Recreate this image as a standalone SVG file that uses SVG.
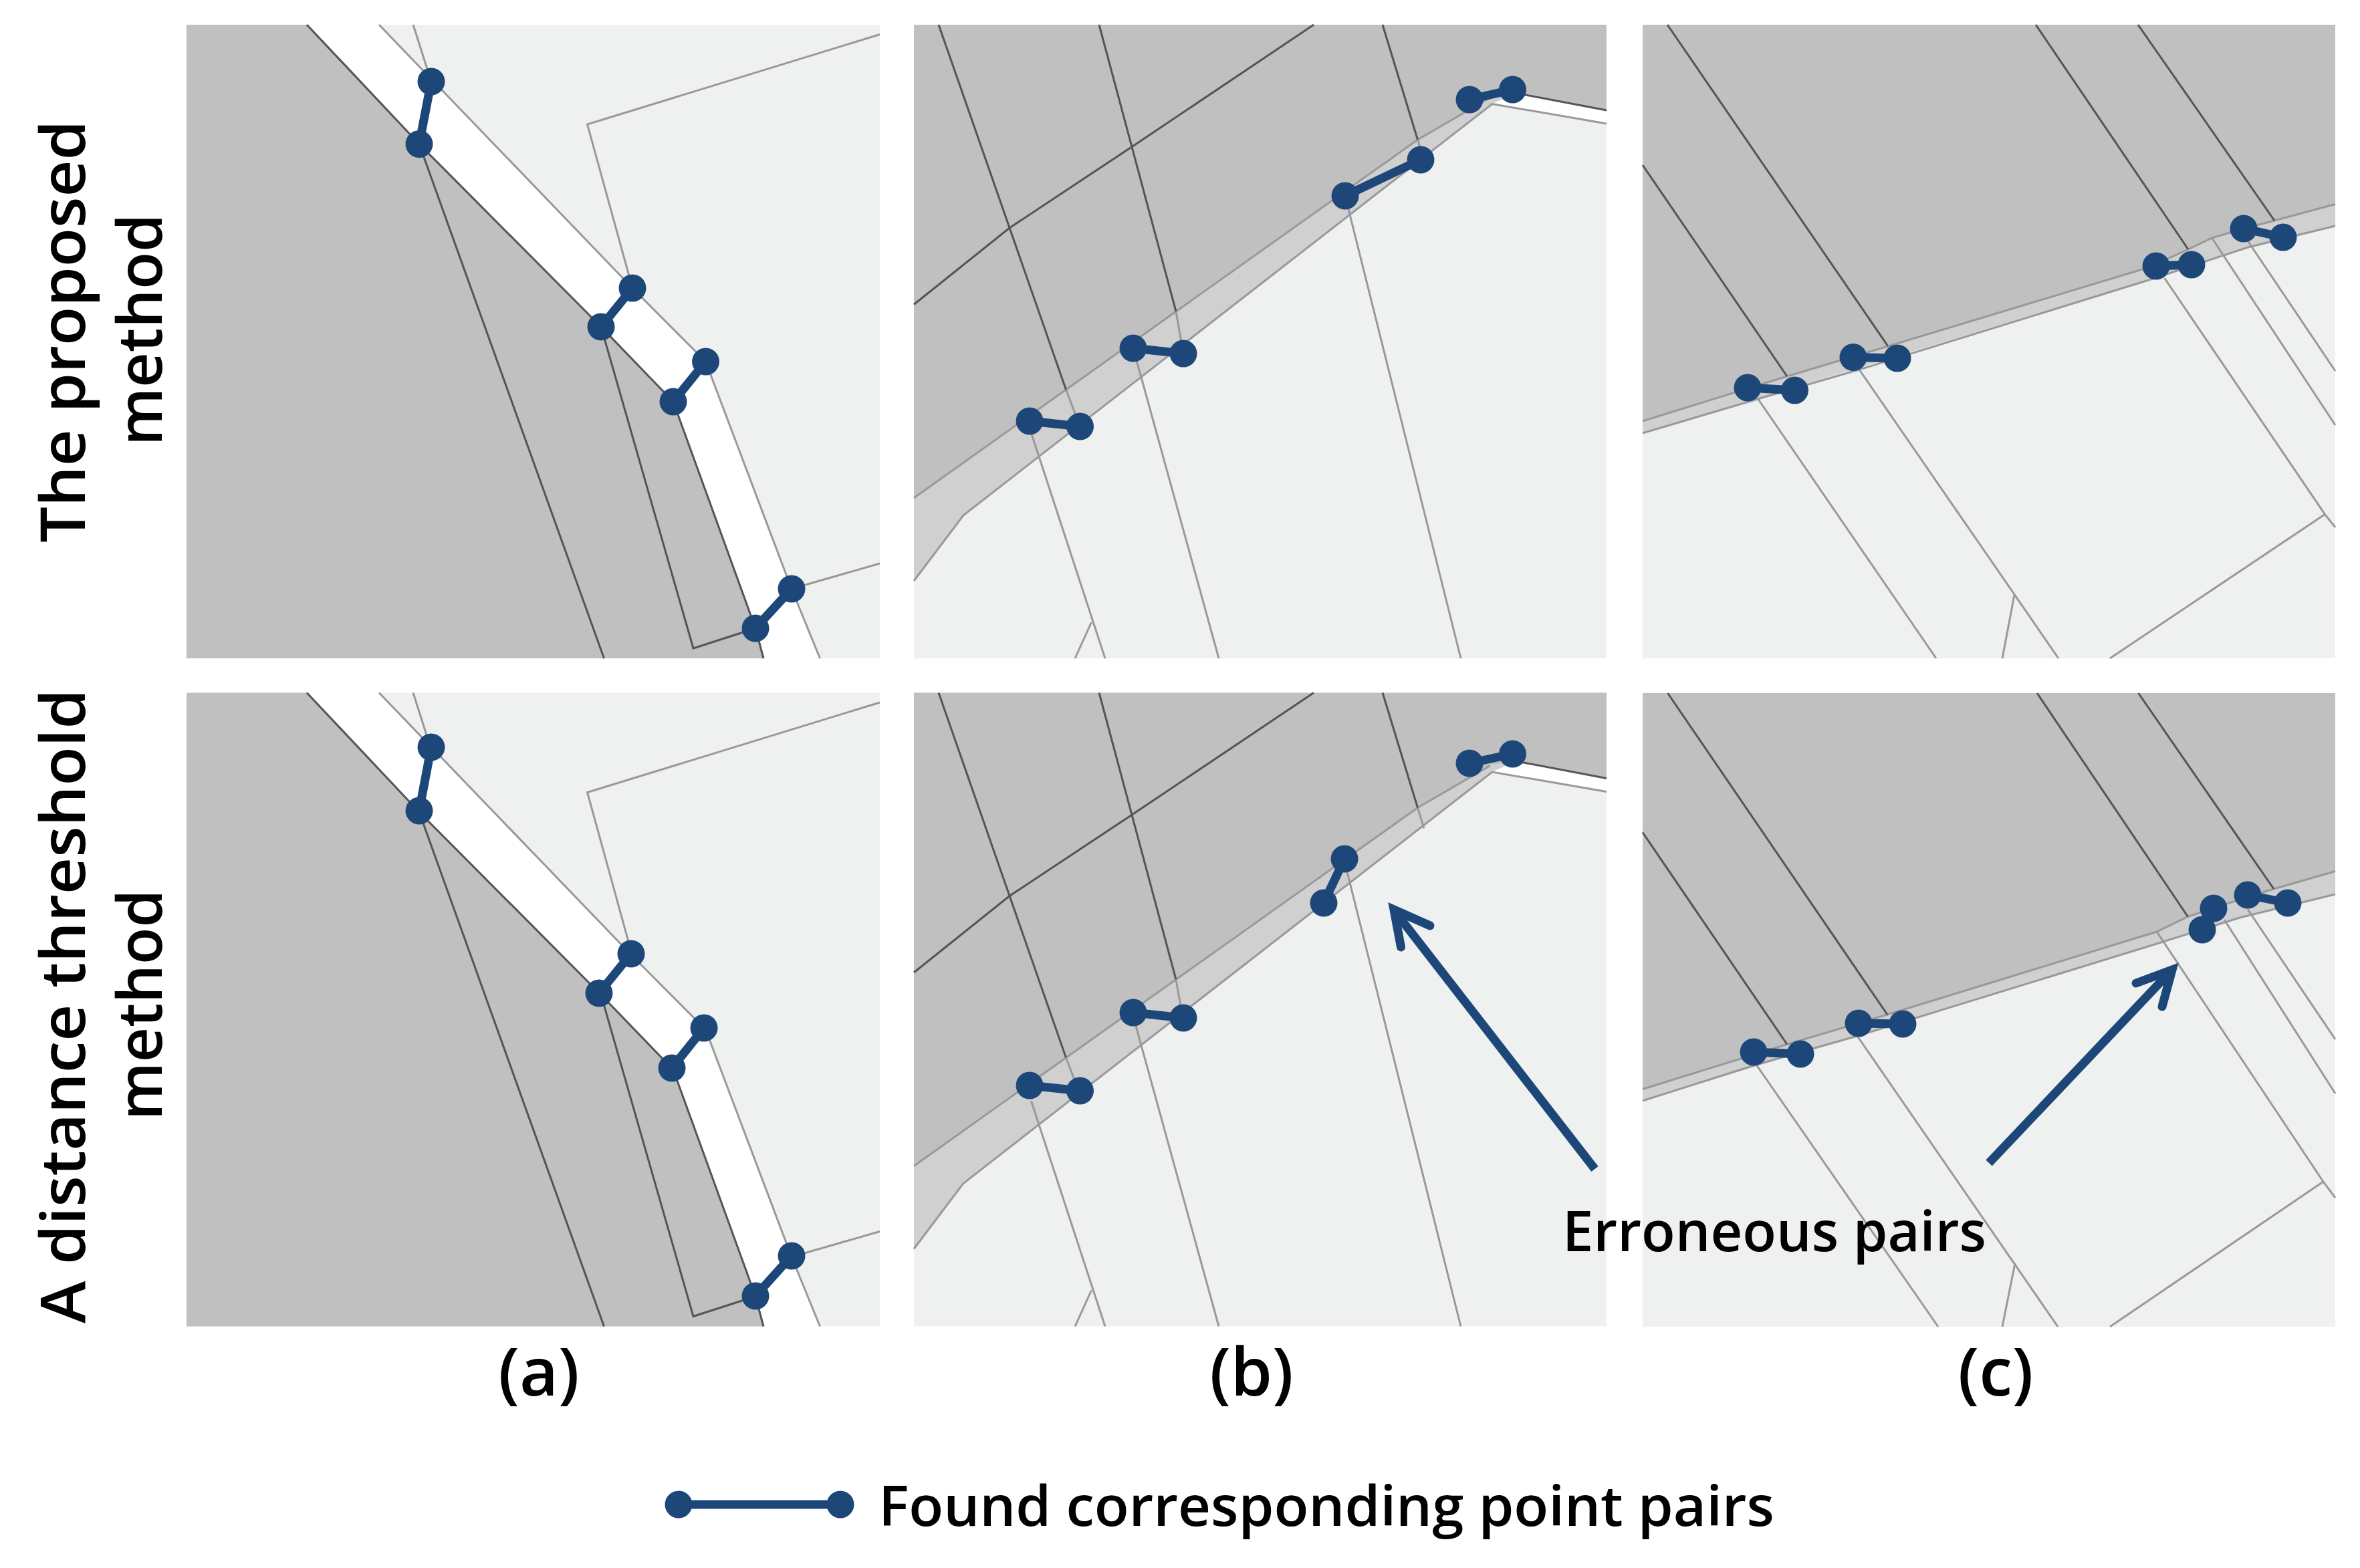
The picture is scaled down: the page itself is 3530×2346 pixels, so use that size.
<svg xmlns="http://www.w3.org/2000/svg" width="3530" height="2346" viewBox="0 0 3530 2346">
<style>
.bg{fill:#eff1f0}.dark{fill:#c0c0c0}.band{fill:#d0d0d0}.white{fill:#fff}
.ld{fill:none;stroke:#555;stroke-width:3}.ll{fill:none;stroke:#999;stroke-width:3}
.pair line{stroke:#1d4779;stroke-width:13}.pair circle{fill:#1d4779;r:20.5px}
.arrow{fill:none;stroke:#1d4779;stroke-width:13}.head{stroke-linecap:round}
text{font-family:"Open Sans","Noto Sans",sans-serif;font-weight:600;fill:#000}
.lab{font-size:84px}.side{font-size:92px}.cap{font-size:100px;text-anchor:middle}
</style>
<defs>
<g id="sceneA">
<rect class="bg" x="279" y="37" width="1037" height="948"/>
<polygon class="white" points="459,37 567,37 946,431 1055.5,541 1184,881 1226.5,985 1142,985 1130,940 1007,601 899,489 627,215.5"/>
<polygon class="dark" points="279,37 459,37 627,215.5 899,489 1007,601 1130,940 1142,985 279,985"/>
<polyline class="ld" points="459,37 627,215.5 899,489 1007,601 1130,940 1142,985"/>
<line class="ld" x1="627" y1="215.5" x2="903.5" y2="985"/>
<polyline class="ld" points="899,489 1037,970 1130,940"/>
<polyline class="ll" points="567,37 946,431 1055.5,541 1184,881 1226.5,985"/>
<line class="ll" x1="618" y1="37" x2="645" y2="122"/>
<polyline class="ll" points="1316,51.5 878.5,186 946,431"/>
<line class="ll" x1="1184" y1="881" x2="1316" y2="843"/>
</g>
<g id="sceneB">
<rect class="bg" x="1367" y="37" width="1036" height="948"/>
<polygon class="white" points="2266,139 2403,165 2403,185 2232,155.5"/>
<polygon class="band" points="1367,745 1594.5,583 1759,466 2120.5,209 2229,146 2266,139 2232,155.5 1441,771 1367,869"/>
<polygon class="dark" points="1367,37 2403,37 2403,165 2266,139 2229,146 2120.5,209 1759,466 1594.5,583 1367,745"/>
<polyline class="ll" points="1367,745 1594.5,583 1759,466 2120.5,209 2229,146"/>
<polyline class="ld" points="2266,139 2403,165"/>
<polyline class="ll" points="1367,869 1441,771 2232,155.5 2403,185"/>
<line class="ld" x1="1404" y1="37" x2="1594.5" y2="583"/>
<line class="ll" x1="1594.5" y1="583" x2="1615.5" y2="638"/>
<line class="ll" x1="1542.5" y1="648" x2="1653" y2="985"/>
<line class="ld" x1="1644" y1="37" x2="1759" y2="466"/>
<line class="ll" x1="1759" y1="466" x2="1770" y2="529"/>
<line class="ll" x1="1695" y1="521" x2="1823" y2="985"/>
<line class="ld" x1="2068" y1="37" x2="2120.5" y2="209"/>
<line class="ll" x1="2120.5" y1="209" x2="2130" y2="240"/>
<line class="ll" x1="2012" y1="293" x2="2185" y2="985"/>
<polyline class="ld" points="1367,455.5 1510,341 1691,221 1965,37"/>
<line class="ll" x1="1632.5" y1="931" x2="1608" y2="985"/>
</g>
</defs>

<g id="panel-a-top"><use href="#sceneA"/></g>
<g id="panel-a-bottom"><use href="#sceneA" y="999.5"/></g>
<g id="panel-b-top"><use href="#sceneB"/></g>
<g id="panel-b-bottom"><use href="#sceneB" y="999.5"/></g>

<g id="panel-c-top">
<rect class="bg" x="2457" y="37" width="1036" height="948"/>
<polygon class="band" points="2457,630 3214,400 3308.5,356 3493,305.5 3493,338 3362.5,370 3214,419 2457,648"/>
<polygon class="dark" points="2457,37 3493,37 3493,305.5 3308.5,356 3214,400 2457,630"/>
<polyline class="ll" points="2457,630 2673,563 2824,518 3214,400 3273,373 3308.5,356 3356,342 3402,330 3493,305.5"/>
<polyline class="ll" points="2457,648 2632.5,596 2781,553 3214,419 3362.5,370 3493,338"/>
<line class="ld" x1="2457" y1="247" x2="2673" y2="563"/>
<line class="ld" x1="2494" y1="37" x2="2824" y2="518"/>
<line class="ld" x1="3045" y1="37" x2="3273" y2="373"/>
<line class="ld" x1="3198" y1="37" x2="3402" y2="330"/>
<line class="ll" x1="3308.5" y1="356" x2="3493" y2="636"/>
<line class="ll" x1="3362.5" y1="361" x2="3493" y2="555"/>
<polyline class="ll" points="3237.5,416 3477.5,769.5 3493,789"/>
<line class="ll" x1="2629" y1="596" x2="2896" y2="985"/>
<line class="ll" x1="2781" y1="553" x2="3079" y2="985"/>
<line class="ll" x1="3013" y1="890" x2="2995" y2="985"/>
<line class="ll" x1="3477.5" y1="769.5" x2="3156" y2="985"/>
</g>

<g id="panel-c-bottom">
<rect class="bg" x="2457" y="1037" width="1036" height="948"/>
<polygon class="band" points="2457,1629.5 3226,1394 3272.5,1371.5 3362,1342 3493,1303.5 3493,1338 3350,1373 3226,1412 2457,1647"/>
<polygon class="dark" points="2457,1037 3493,1037 3493,1303.5 3362,1342 3272.5,1371.5 3226,1394 2457,1629.5"/>
<polyline class="ll" points="2457,1629.5 2673,1562.5 2823,1518 3226,1394 3272.5,1371.5 3362,1342 3401,1330 3493,1303.5"/>
<polyline class="ll" points="2457,1647 2627,1593 2778,1550 3226,1412 3350,1373 3493,1338"/>
<line class="ld" x1="2457" y1="1245.5" x2="2673" y2="1562.5"/>
<line class="ld" x1="2494.5" y1="1037" x2="2823" y2="1518"/>
<line class="ld" x1="3047" y1="1037" x2="3272.5" y2="1371.5"/>
<line class="ld" x1="3198.5" y1="1037" x2="3401" y2="1330"/>
<polyline class="ll" points="3226,1394 3475,1768 3493,1792"/>
<line class="ll" x1="3327" y1="1376" x2="3493" y2="1636"/>
<line class="ll" x1="3362" y1="1360.5" x2="3493" y2="1555"/>
<line class="ll" x1="3475" y1="1768" x2="3156" y2="1985"/>
<line class="ll" x1="2627" y1="1593" x2="2899" y2="1985"/>
<line class="ll" x1="2778" y1="1550" x2="3078" y2="1985"/>
<line class="ll" x1="3014" y1="1890" x2="2995" y2="1985"/>
</g>

<g id="connectors">
<g class="pair"><line x1="645" y1="122" x2="627" y2="215.5"/><circle cx="645" cy="122"/><circle cx="627" cy="215.5"/></g>
<g class="pair"><line x1="946" y1="431" x2="899" y2="489"/><circle cx="946" cy="431"/><circle cx="899" cy="489"/></g>
<g class="pair"><line x1="1055.5" y1="541" x2="1007" y2="601"/><circle cx="1055.5" cy="541"/><circle cx="1007" cy="601"/></g>
<g class="pair"><line x1="1184" y1="881" x2="1130" y2="940"/><circle cx="1184" cy="881"/><circle cx="1130" cy="940"/></g>

<g class="pair"><line x1="645" y1="1118" x2="627" y2="1213"/><circle cx="645" cy="1118"/><circle cx="627" cy="1213"/></g>
<g class="pair"><line x1="944" y1="1427" x2="896" y2="1486"/><circle cx="944" cy="1427"/><circle cx="896" cy="1486"/></g>
<g class="pair"><line x1="1053" y1="1538" x2="1005" y2="1598"/><circle cx="1053" cy="1538"/><circle cx="1005" cy="1598"/></g>
<g class="pair"><line x1="1184" y1="1879" x2="1130" y2="1939"/><circle cx="1184" cy="1879"/><circle cx="1130" cy="1939"/></g>

<g class="pair"><line x1="1540" y1="630" x2="1615.5" y2="638"/><circle cx="1540" cy="630"/><circle cx="1615.5" cy="638"/></g>
<g class="pair"><line x1="1695" y1="521" x2="1770" y2="529"/><circle cx="1695" cy="521"/><circle cx="1770" cy="529"/></g>
<g class="pair"><line x1="2012" y1="293" x2="2125" y2="239"/><circle cx="2012" cy="293"/><circle cx="2125" cy="239"/></g>
<g class="pair"><line x1="2198" y1="149" x2="2262.5" y2="134"/><circle cx="2198" cy="149"/><circle cx="2262.5" cy="134"/></g>

<g class="pair"><line x1="1540" y1="1624" x2="1615.5" y2="1632"/><circle cx="1540" cy="1624"/><circle cx="1615.5" cy="1632"/></g>
<g class="pair"><line x1="1695" y1="1515" x2="1770" y2="1523"/><circle cx="1695" cy="1515"/><circle cx="1770" cy="1523"/></g>
<g class="pair"><line x1="2011" y1="1285" x2="1980" y2="1351"/><circle cx="2011" cy="1285"/><circle cx="1980" cy="1351"/></g>
<g class="pair"><line x1="2198" y1="1142" x2="2262.5" y2="1128"/><circle cx="2198" cy="1142"/><circle cx="2262.5" cy="1128"/></g>

<g class="pair"><line x1="2614" y1="580" x2="2684.5" y2="584"/><circle cx="2614" cy="580"/><circle cx="2684.5" cy="584"/></g>
<g class="pair"><line x1="2772" y1="534.5" x2="2838" y2="536"/><circle cx="2772" cy="534.5"/><circle cx="2838" cy="536"/></g>
<g class="pair"><line x1="3225" y1="398" x2="3278" y2="396"/><circle cx="3225" cy="398"/><circle cx="3278" cy="396"/></g>
<g class="pair"><line x1="3356" y1="342" x2="3415" y2="355"/><circle cx="3356" cy="342"/><circle cx="3415" cy="355"/></g>

<g class="pair"><line x1="2623" y1="1574" x2="2693" y2="1577"/><circle cx="2623" cy="1574"/><circle cx="2693" cy="1577"/></g>
<g class="pair"><line x1="2780" y1="1531" x2="2846" y2="1532"/><circle cx="2780" cy="1531"/><circle cx="2846" cy="1532"/></g>
<g class="pair"><line x1="3311" y1="1359" x2="3294" y2="1391"/><circle cx="3311" cy="1359"/><circle cx="3294" cy="1391"/></g>
<g class="pair"><line x1="3362" y1="1339" x2="3422" y2="1351"/><circle cx="3362" cy="1339"/><circle cx="3422" cy="1351"/></g>

<g class="pair" id="legend-pair"><line x1="1015" y1="2251" x2="1257" y2="2251"/><circle cx="1015" cy="2251"/><circle cx="1257" cy="2251"/></g>

<g id="arrow-b"><line class="arrow" x1="2385.5" y1="1749" x2="2086" y2="1363"/><polyline class="arrow head" points="2139,1385 2085,1361 2095.5,1417"/></g>
<g id="arrow-c"><line class="arrow" x1="2975" y1="1740" x2="3248" y2="1452"/><polyline class="arrow head" points="3195,1471 3249,1451 3234,1506"/></g>
</g>

<g id="labels">
<text class="side" transform="translate(127,812) rotate(-90)" textLength="632" lengthAdjust="spacingAndGlyphs">The proposed</text>
<text class="side" transform="translate(242,667) rotate(-90)" textLength="347" lengthAdjust="spacingAndGlyphs">method</text>
<text class="side" transform="translate(127,1980) rotate(-90)" textLength="949" lengthAdjust="spacingAndGlyphs">A distance threshold</text>
<text class="side" transform="translate(242,1676) rotate(-90)" textLength="345" lengthAdjust="spacingAndGlyphs">method</text>
<text class="cap" x="806" y="2088">(a)</text>
<text class="cap" x="1872" y="2088">(b)</text>
<text class="cap" x="2985" y="2088">(c)</text>
<text class="lab" x="2337" y="1872" textLength="634" lengthAdjust="spacingAndGlyphs">Erroneous pairs</text>
<text class="lab" x="1314" y="2283" textLength="1340" lengthAdjust="spacingAndGlyphs">Found corresponding point pairs</text>
</g>
</svg>
